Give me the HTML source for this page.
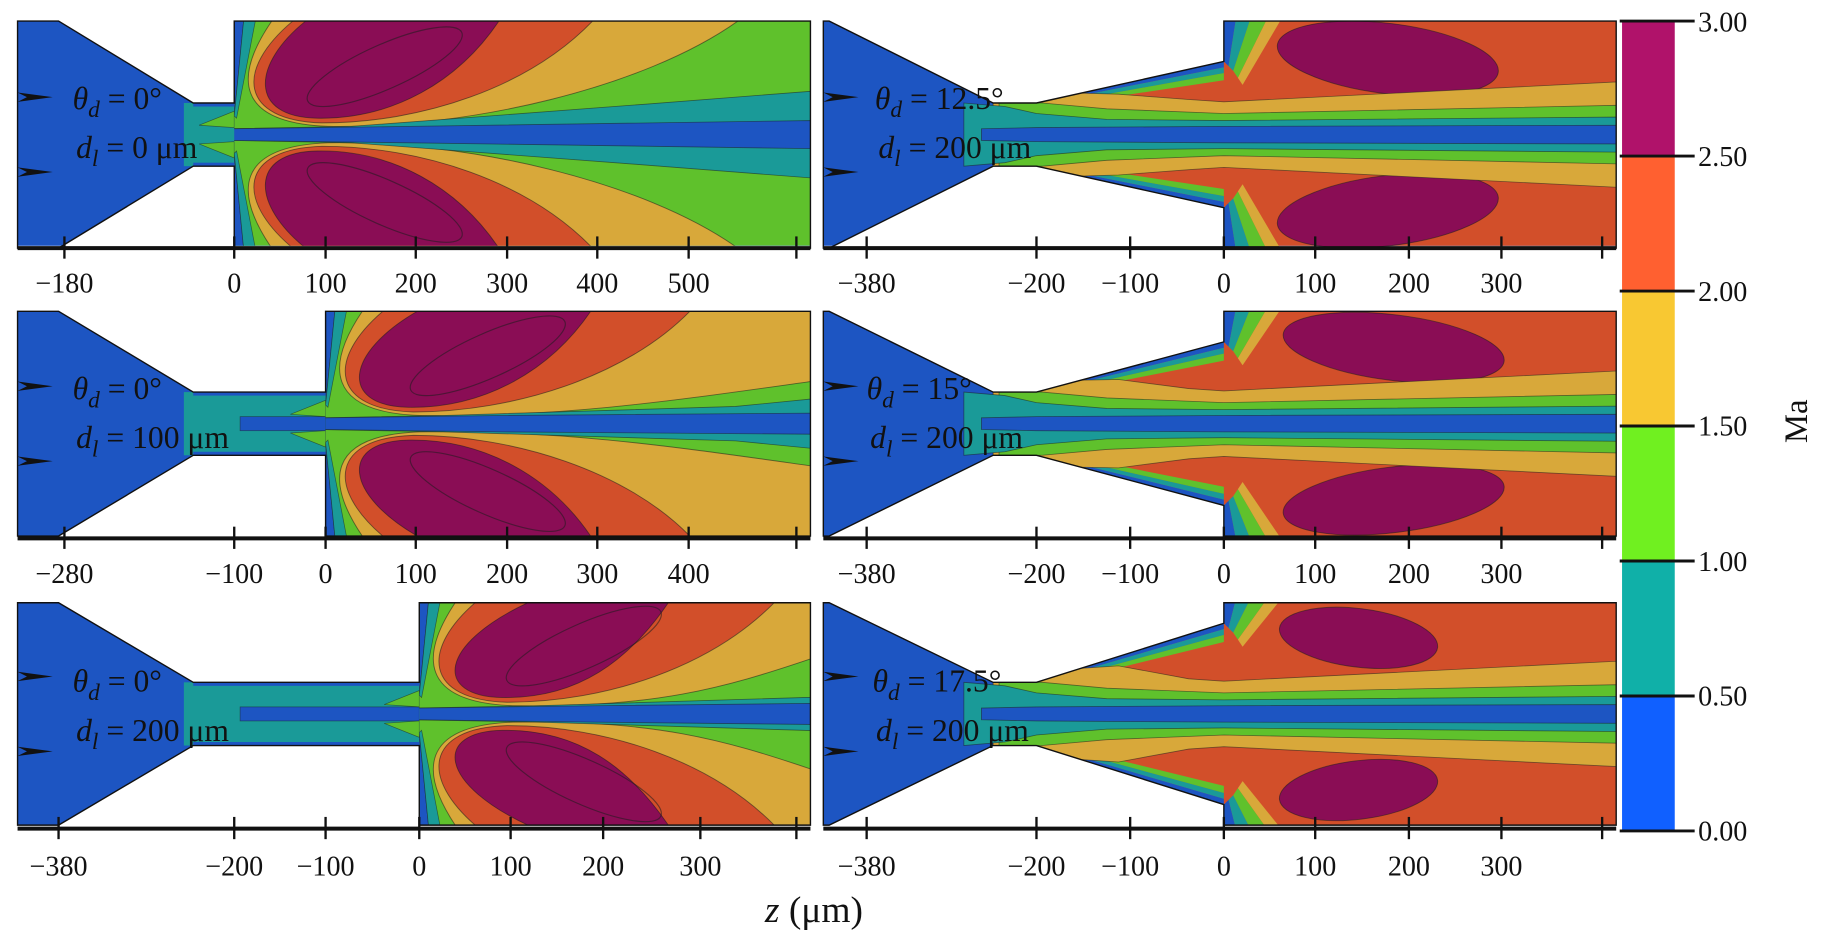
<!DOCTYPE html>
<html><head><meta charset="utf-8"><style>
html,body{margin:0;padding:0;background:#fff;}
svg{display:block;}
text{font-family:"Liberation Serif",serif;fill:#111;}
</style></head><body>
<svg id="s" xmlns="http://www.w3.org/2000/svg" width="1827" height="948" viewBox="0 0 1560 810" preserveAspectRatio="none">
<defs id="d"></defs>
<g id="g"></g>
<g id="txt">
<text x="1450" y="27" font-size="24">3.00</text>
<text x="1450" y="142" font-size="24">2.50</text>
<text x="1450" y="257" font-size="24">2.00</text>
<text x="1450" y="372" font-size="24">1.50</text>
<text x="1450" y="488" font-size="24">1.00</text>
<text x="1450" y="603" font-size="24">0.50</text>
<text x="1450" y="718" font-size="24">0.00</text>
<text transform="translate(1543,360) rotate(-90)" font-size="28" text-anchor="middle">Ma</text>
<text x="695" y="788" font-size="32" text-anchor="middle"><tspan font-style="italic">z</tspan> (μm)</text>
<g font-size="24" text-anchor="middle">
<text x="55" y="250">−180</text><text x="200" y="250">0</text><text x="278" y="250">100</text><text x="355" y="250">200</text><text x="433" y="250">300</text><text x="510" y="250">400</text><text x="588" y="250">500</text>
<text x="55" y="498">−280</text><text x="200" y="498">−100</text><text x="278" y="498">0</text><text x="355" y="498">100</text><text x="433" y="498">200</text><text x="510" y="498">300</text><text x="588" y="498">400</text>
<text x="50" y="748">−380</text><text x="200" y="748">−200</text><text x="278" y="748">−100</text><text x="358" y="748">0</text><text x="436" y="748">100</text><text x="515" y="748">200</text><text x="598" y="748">300</text>
<text x="740" y="250">−380</text><text x="885" y="250">−200</text><text x="965" y="250">−100</text><text x="1045" y="250">0</text><text x="1123" y="250">100</text><text x="1203" y="250">200</text><text x="1282" y="250">300</text>
<text x="740" y="498">−380</text><text x="885" y="498">−200</text><text x="965" y="498">−100</text><text x="1045" y="498">0</text><text x="1123" y="498">100</text><text x="1203" y="498">200</text><text x="1282" y="498">300</text>
<text x="740" y="748">−380</text><text x="885" y="748">−200</text><text x="965" y="748">−100</text><text x="1045" y="748">0</text><text x="1123" y="748">100</text><text x="1203" y="748">200</text><text x="1282" y="748">300</text>
</g>
<g font-size="27">
<text x="62" y="93"><tspan font-style="italic">θ</tspan><tspan font-style="italic" font-size="20" dy="7">d</tspan><tspan dy="-7"> = 0°</tspan></text>
<text x="65" y="135"><tspan font-style="italic">d</tspan><tspan font-style="italic" font-size="20" dy="7">l</tspan><tspan dy="-7"> = 0 μm</tspan></text>
<text x="62" y="341"><tspan font-style="italic">θ</tspan><tspan font-style="italic" font-size="20" dy="7">d</tspan><tspan dy="-7"> = 0°</tspan></text>
<text x="65" y="383"><tspan font-style="italic">d</tspan><tspan font-style="italic" font-size="20" dy="7">l</tspan><tspan dy="-7"> = 100 μm</tspan></text>
<text x="62" y="591"><tspan font-style="italic">θ</tspan><tspan font-style="italic" font-size="20" dy="7">d</tspan><tspan dy="-7"> = 0°</tspan></text>
<text x="65" y="633"><tspan font-style="italic">d</tspan><tspan font-style="italic" font-size="20" dy="7">l</tspan><tspan dy="-7"> = 200 μm</tspan></text>
<text x="747" y="93"><tspan font-style="italic">θ</tspan><tspan font-style="italic" font-size="20" dy="7">d</tspan><tspan dy="-7"> = 12.5°</tspan></text>
<text x="750" y="135"><tspan font-style="italic">d</tspan><tspan font-style="italic" font-size="20" dy="7">l</tspan><tspan dy="-7"> = 200 μm</tspan></text>
<text x="740" y="341"><tspan font-style="italic">θ</tspan><tspan font-style="italic" font-size="20" dy="7">d</tspan><tspan dy="-7"> = 15°</tspan></text>
<text x="743" y="383"><tspan font-style="italic">d</tspan><tspan font-style="italic" font-size="20" dy="7">l</tspan><tspan dy="-7"> = 200 μm</tspan></text>
<text x="745" y="591"><tspan font-style="italic">θ</tspan><tspan font-style="italic" font-size="20" dy="7">d</tspan><tspan dy="-7"> = 17.5°</tspan></text>
<text x="748" y="633"><tspan font-style="italic">d</tspan><tspan font-style="italic" font-size="20" dy="7">l</tspan><tspan dy="-7"> = 200 μm</tspan></text>
</g>
</g>
</svg>
<script>
(function(){
var NS="http://www.w3.org/2000/svg",G=document.getElementById('g'),D=document.getElementById('d');
function el(t,a,p){var e=document.createElementNS(NS,t);for(var k in a)e.setAttribute(k,a[k]);(p||G).appendChild(e);return e;}
var B='#1d55c2',T='#1a9a98',GR='#5fc12c',Y='#d8a83a',O='#d24f2a',P='#8a0d55',LN='rgba(30,30,30,0.55)';
function pts(a){return a.map(function(p){return p[0]+','+p[1];}).join(' ');}
function band(g,yc,xs,hs,col){
  var top=hs.map(function(p){return [p[0],yc-p[1]];});
  var bot=hs.slice().reverse().map(function(p){return [p[0],yc+p[1]];});
  el('polygon',{points:pts(top.concat(bot)),fill:col,stroke:LN,'stroke-width':0.7},g);
}
function lobe(g,x0,yc,s,L,col){
  function Q(q){return (x0+q[0])+','+(yc+s*q[1]);}
  var e=L[6];
  var d='M'+Q([L[0],-97])+' C'+Q(L[1])+' '+Q(L[2])+' '+Q(L[3])+' C'+Q(L[4])+' '+Q(L[5])+' '+Q(e);
  if(e[1]>-97){d+=' L'+Q([e[0]+400,e[1]])+' L'+Q([e[0]+400,-110]);}
  d+=' L'+Q([e[0]+5,-110])+' L'+Q([L[0],-110])+' Z';
  el('path',{d:d,fill:col,stroke:LN,'stroke-width':0.8},g);
}
var cid=0;
function panel(p){
  var yc=p.yc,xl=p.xl,xr=p.xr,yt=p.yt,yb=p.yb,H=27;
  var top=[[xl,yt],[p.conv,yt],[p.th,yc-H],[p.te,yc-H]];
  if(p.div){top.push([p.x0,yc-p.div]);}
  top.push([p.x0,yt],[xr,yt]);
  var bot=top.slice().reverse().map(function(q){return [q[0],2*yc-q[1]];});
  var poly=top.concat(bot);
  var id='c'+(cid++);
  var cp=el('clipPath',{id:id},D);el('polygon',{points:pts(poly)},cp);
  var g=el('g',{'clip-path':'url(#'+id+')'});
  el('rect',{x:xl,y:yt,width:xr-xl,height:yb-yt,fill:B},g);
  var x0=p.x0;
  if(!p.div){
    el('rect',{x:p.th-8,y:yc-H,width:x0-p.th+8,height:2*H,fill:T},g);
    el('rect',{x:p.th,y:yc-H,width:x0-p.th,height:3,fill:B},g);
    el('rect',{x:p.th,y:yc+H-3,width:x0-p.th,height:3,fill:B},g);
    if(x0-p.th>60) el('rect',{x:p.th+40,y:yc-6,width:x0-p.th-40,height:12,fill:B,stroke:LN,'stroke-width':0.6},g);
    [-1,1].forEach(function(s){
      el('polygon',{points:pts([[x0-30,yc+s*8],[x0,yc+s*20],[x0,yc+s*6]]),fill:GR,stroke:LN,'stroke-width':0.6},g);
    });
    var id2='c'+(cid++);var cp2=el('clipPath',{id:id2},D);el('rect',{x:x0,y:yt,width:xr-x0,height:yb-yt},cp2);
    var e=el('g',{'clip-path':'url(#'+id2+')'},g);
    el('rect',{x:x0,y:yt,width:xr-x0,height:yb-yt,fill:GR},e);
    [-1,1].forEach(function(s){
      lobe(e,x0,yc,s,[32,[0,-50],[0,-10],[80,-7],[200,-5],p.yc2,p.yEnd],Y);
      lobe(e,x0,yc,s,[50,[0,-55],[5,-12],[75,-10],[160,-10],[p.oE-55,-40],[p.oE,-97]],O);
      lobe(e,x0,yc,s,[p.pS,[15,-60],[12,-15],[71,-14],[135,-13],[p.pE-35,-45],[p.pE,-97]],P);
      el('polygon',{points:pts([[x0,yc-s*97],[x0+8,yc-s*97],[x0,yc-s*16]]),fill:B,stroke:LN,'stroke-width':0.6},e);
      el('polygon',{points:pts([[x0+8,yc-s*97],[x0+18,yc-s*97],[x0+2,yc-s*14],[x0,yc-s*16]]),fill:T,stroke:LN,'stroke-width':0.6},e);
    });
    [-1,1].forEach(function(s){
      var cx=x0+(p.pS+p.pE)/2-15,cy=yc+s*58;
      el('ellipse',{cx:cx,cy:cy,rx:72,ry:19,transform:'rotate('+(s*24)+' '+cx+' '+cy+')',fill:'none',stroke:LN,'stroke-width':1},e);
    });
    band(e,yc,0,[[x0-2,5],[x0+100,7],[x0+350,p.tw*0.7],[xr,p.tw]],T);
    band(e,yc,0,[[x0-2,5],[x0+150,7],[xr,p.bw]],B);
  } else {
    var te=p.te,tn=p.div;
    function wall(x){return H+(x-te)*(tn-H)/(x0-te);}
    el('rect',{x:p.th,y:yt,width:xr-p.th,height:yb-yt,fill:O},g);
    [-1,1].forEach(function(s){
      el('ellipse',{cx:x0+p.px,cy:yc+s*65,rx:p.prx,ry:p.pry,transform:'rotate('+(-s*7)+' '+(x0+p.px)+' '+(yc+s*65)+')',fill:P,stroke:LN,'stroke-width':0.8},g);
      el('polygon',{points:pts([[x0,yc+s*tn],[x0,yc+s*97],[x0+10,yc+s*97],[x0+4,yc+s*(tn-4)]]),fill:B},g);
      el('polygon',{points:pts([[x0+4,yc+s*(tn-4)],[x0+10,yc+s*97],[x0+22,yc+s*97],[x0+8,yc+s*(tn-8)]]),fill:T},g);
      el('polygon',{points:pts([[x0+8,yc+s*(tn-8)],[x0+22,yc+s*97],[x0+36,yc+s*97],[x0+12,yc+s*(tn-14)]]),fill:GR},g);
      el('polygon',{points:pts([[x0+12,yc+s*(tn-14)],[x0+36,yc+s*97],[x0+48,yc+s*97],[x0+16,yc+s*(tn-20)]]),fill:Y},g);
      el('polygon',{points:pts([[te+30,yc+s*wall(te+30)],[x0,yc+s*tn],[x0,yc+s*(tn-5)],[te+30,yc+s*(wall(te+30)-2)]]),fill:B},g);
      el('polygon',{points:pts([[te+30,yc+s*(wall(te+30)-2)],[x0,yc+s*(tn-5)],[x0,yc+s*(tn-10)],[te+40,yc+s*(wall(te+40)-5)]]),fill:T},g);
      el('polygon',{points:pts([[te+40,yc+s*(wall(te+40)-5)],[x0,yc+s*(tn-10)],[x0,yc+s*(tn-16)],[te+60,yc+s*(wall(te+60)-9)]]),fill:GR},g);
    });
    band(g,yc,0,[[p.th,H],[te+30,wall(te+30)+2],[te+70,wall(te+70)-8],[te+130,30],[x0,28],[xr,45]],Y);
    band(g,yc,0,[[p.th+5,H],[te+5,H],[te+60,22],[x0,18],[xr,25]],GR);
    band(g,yc,0,[[p.th-25,H],[p.th+10,24],[te,18],[te+60,13],[x0,12],[xr,15]],T);
    band(g,yc,0,[[p.th-10,5],[te,6],[x0,7],[xr,8]],B);
  }
  el('polygon',{points:pts(poly),fill:'none',stroke:'#111','stroke-width':1.2});
  [-32,32].forEach(function(o){el('polygon',{points:pts([[xl,yc+o-4],[xl+30,yc+o],[xl,yc+o+4],[xl+8,yc+o]]),fill:'#111'});});
  el('line',{x1:xl,y1:yb+2,x2:xr,y2:yb+2,stroke:'#111','stroke-width':3.5});
  p.ticks.forEach(function(x){el('line',{x1:x,y1:yb-8,x2:x,y2:yb+11,stroke:'#111','stroke-width':2});});
}
var L1=[55,200,278,355,433,510,588,680],L2=[55,200,278,355,433,510,588,680],L3=[50,200,278,358,436,515,598,680],R=[740,885,965,1045,1123,1203,1282,1368];
panel({xl:15,xr:692,yt:18,yb:210,yc:115,x0:200,th:165,te:200,conv:50,tw:37,bw:12,yc2:[350,-40],yEnd:[430,-97],oE:306,pS:61,pE:226,ticks:L1});
panel({xl:15,xr:692,yt:266,yb:458,yc:362,x0:278,th:165,te:278,conv:50,tw:21,bw:9,yc2:[300,-20],yEnd:[414,-36],oE:312,pS:80,pE:227,ticks:L2});
panel({xl:15,xr:692,yt:515,yb:706,yc:610,x0:358,th:165,te:358,conv:50,tw:21,bw:9,yc2:[260,-22],yEnd:[334,-47],oE:305,pS:97,pE:214,ticks:L3});
var t=function(a){return 27+160*Math.tan(a*Math.PI/180);};
panel({xl:703,xr:1380,yt:18,yb:210,yc:115,x0:1045,th:848,te:885,conv:708,div:t(12.5),px:140,prx:95,pry:30,ticks:R});
panel({xl:703,xr:1380,yt:266,yb:458,yc:362,x0:1045,th:848,te:885,conv:708,div:t(15),px:145,prx:95,pry:28,ticks:R});
panel({xl:703,xr:1380,yt:515,yb:706,yc:610,x0:1045,th:848,te:885,conv:708,div:t(17.5),px:115,prx:68,pry:25,ticks:R});
var cols=['#b0126a','#ff6030','#f8c832','#70f020','#10b0a8','#1060ff'];
var y0=18,h=(710-18)/6;
cols.forEach(function(c,i){el('rect',{x:1385,y:y0+i*h,width:45,height:h+0.5,fill:c});});
for(var i=0;i<=6;i++){el('line',{x1:1383,y1:y0+i*h,x2:1447,y2:y0+i*h,stroke:'#111','stroke-width':2.5});}
})();
</script>
</body></html>
